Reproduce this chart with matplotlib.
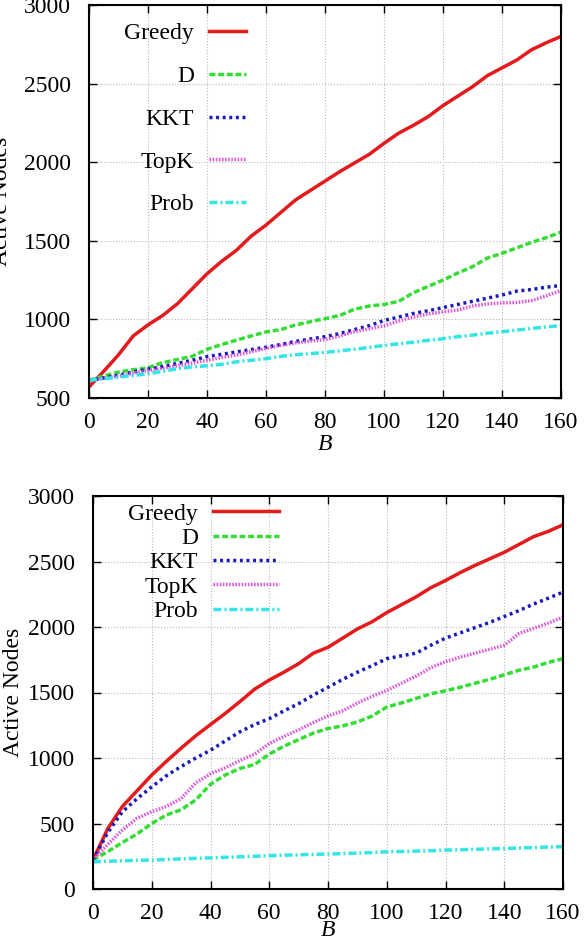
import numpy as np
import matplotlib
matplotlib.use("Agg")
import matplotlib.pyplot as plt

plt.rcParams['font.family'] = ['Liberation Serif', 'DejaVu Serif']
plt.rcParams['mathtext.fontset'] = 'custom'
plt.rcParams['mathtext.it'] = 'Liberation Serif:italic'

B = np.arange(0, 161, 5)

# top panel
top_greedy = [570, 670, 775, 895, 965, 1025, 1100, 1195, 1290, 1370, 1440, 1530, 1600, 1680, 1760, 1820, 1880,
              1940, 1995, 2050, 2120, 2185, 2235, 2290, 2360, 2420, 2480, 2550, 2600, 2650, 2715, 2760, 2800]
top_d = [612, 640, 665, 680, 692, 725, 745, 765, 810, 840, 868, 895, 920, 935, 965, 985, 1005,
         1025, 1065, 1085, 1095, 1115, 1170, 1210, 1250, 1295, 1335, 1390, 1420, 1455, 1490, 1520, 1555]
top_kkt = [612, 628, 645, 665, 684, 700, 720, 740, 763, 778, 793, 808, 823, 840, 860, 875, 890,
           910, 935, 960, 993, 1015, 1038, 1055, 1075, 1095, 1115, 1135, 1155, 1180, 1190, 1205, 1216]
top_topk = [612, 626, 640, 658, 675, 690, 705, 722, 740, 758, 773, 795, 815, 835, 850, 862, 872,
            895, 922, 940, 960, 990, 1015, 1035, 1048, 1060, 1085, 1098, 1105, 1108, 1120, 1150, 1184]
top_prob = [612, 622, 633, 643, 654, 670, 686, 698, 705, 715, 730, 740, 750, 765, 775, 782, 790,
            800, 810, 822, 834, 845, 855, 867, 877, 890, 900, 912, 922, 932, 942, 952, 961]

# bottom panel
bot_greedy = [221, 460, 630, 750, 870, 975, 1075, 1170, 1255, 1340, 1430, 1525, 1595, 1655, 1720, 1800, 1845,
              1915, 1985, 2040, 2110, 2170, 2230, 2300, 2355, 2415, 2470, 2520, 2570, 2630, 2690, 2730, 2780]
bot_d = [221, 285, 355, 420, 500, 565, 605, 680, 800, 870, 920, 950, 1030, 1090, 1140, 1190, 1225,
         1245, 1275, 1320, 1389, 1420, 1455, 1490, 1513, 1540, 1570, 1600, 1635, 1670, 1694, 1730, 1758]
bot_kkt = [221, 430, 590, 690, 780, 865, 935, 1000, 1059, 1130, 1200, 1255, 1300, 1360, 1415, 1480, 1540,
           1600, 1655, 1705, 1758, 1780, 1800, 1860, 1915, 1955, 1995, 2035, 2080, 2125, 2175, 2220, 2266]
bot_topk = [221, 340, 450, 540, 590, 630, 690, 810, 880, 925, 980, 1030, 1110, 1165, 1215, 1270, 1320,
            1360, 1420, 1470, 1516, 1570, 1625, 1690, 1735, 1770, 1800, 1830, 1860, 1950, 1990, 2030, 2075]
bot_prob = [208, 212, 215, 219, 221, 225, 230, 234, 238, 242, 246, 250, 254, 258, 261, 264, 267,
            270, 274, 278, 284, 286, 289, 292, 297, 300, 303, 306, 310, 313, 316, 320, 323]

labels = ["Greedy", "D", "KKT", "TopK", "Prob"]
colors = ['#e41a1c', '#33dd33', '#1a1ab8', '#dd55dd', '#33e5e5']
dashes = [None, (1.7, 0.8), (0.85, 1.05), (0.45, 0.45), (2.3, 0.85, 0.6, 0.85)]
fs = 17

fig = plt.figure(figsize=(5.84, 9.43), dpi=100)
ax1 = fig.add_axes([89/584, 1-398/943, 472/584, 393/943])
ax2 = fig.add_axes([93/584, 1-889/943, 470/584, 393/943])


def draw(ax, series, ylo, ylab_x, leg_anchor, handlelen, lspace, xpad):
    for y, lab, c, d in zip(series, labels, colors, dashes):
        line, = ax.plot(B, y, color=c, lw=2.5, label=lab)
        if d is not None:
            line.set_dashes(d)
    ax.set_xlim(0, 160)
    ax.set_ylim(ylo, 3000)
    ax.set_xticks(range(0, 161, 20))
    ax.set_yticks(range(ylo, 3001, 500))
    ax.grid(True, color='#b8b8b8', ls=':', lw=0.8)
    ax.tick_params(direction='in', top=True, right=True, length=6, width=1, labelsize=fs)
    ax.tick_params(axis='x', pad=10)
    ax.tick_params(axis='y', pad=13)
    for s in ax.spines.values():
        s.set_linewidth(1.5)
    ax.set_xlabel('$B$', fontsize=fs, labelpad=xpad)
    ax.set_ylabel('Active Nodes', fontsize=fs)
    ax.yaxis.set_label_coords(ylab_x, 0.5)
    ax.legend(loc='upper left', bbox_to_anchor=leg_anchor, frameon=False, markerfirst=False,
              fontsize=fs, handlelength=handlelen, handletextpad=0.65, labelspacing=lspace,
              borderpad=0, borderaxespad=0)


draw(ax1, [top_greedy, top_d, top_kkt, top_topk, top_prob], 500, -0.164, (0.075, 0.955), 1.55, 0.9, 1)
draw(ax2, [bot_greedy, bot_d, bot_kkt, bot_topk, bot_prob], 0, -0.146, (0.075, 0.982), 2.8, 0.12, -3)

fig.savefig('out.png', dpi=100)
